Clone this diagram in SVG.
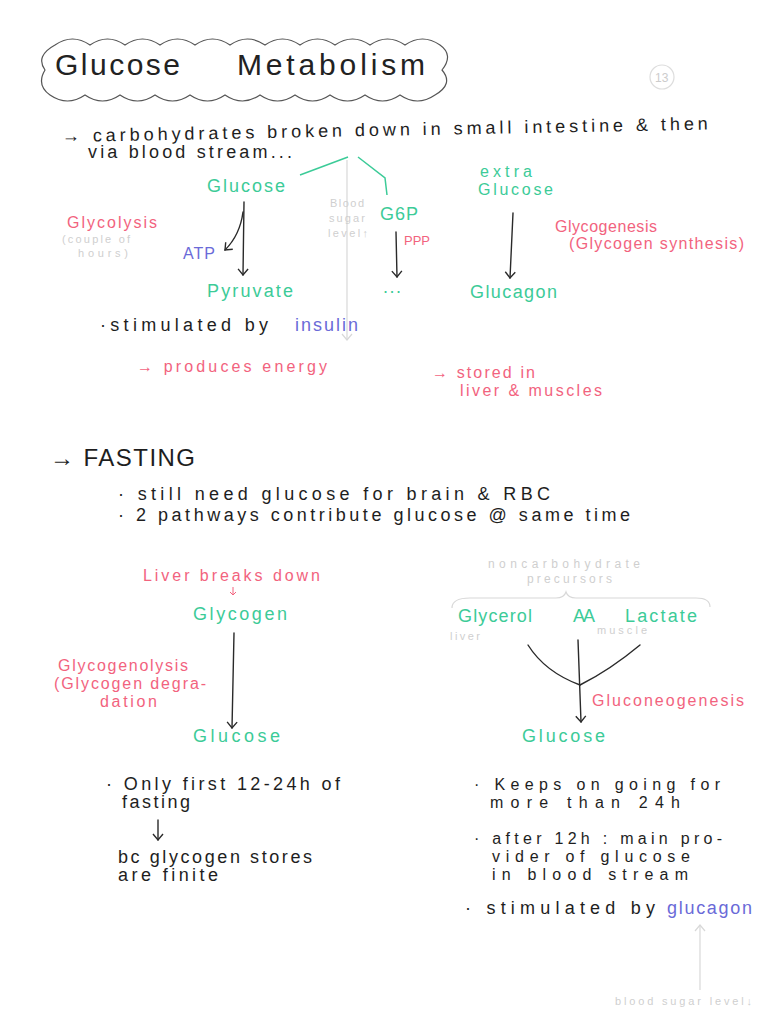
<svg xmlns="http://www.w3.org/2000/svg" width="768" height="1024" viewBox="0 0 768 1024">
<style>
text{font-family:"Liberation Sans","DejaVu Sans",sans-serif;font-size:18px;fill:#1e1e1e}
.g{fill:#3ccb98;font-size:18px}
.p{fill:#f2637e;font-size:16px}
.b{fill:#6a6ad8}
.f{fill:#cfcfcf;font-size:11px}
.t{font-size:30px;fill:#222}
.n{font-size:16px}
.ln{stroke:#2a2a2a;stroke-width:1.4;fill:none;stroke-linecap:round}
.gl{stroke:#3ccb98;stroke-width:1.5;fill:none}
.fl{stroke:#d8d8d8;stroke-width:1.2;fill:none}
</style>
<defs>
<marker id="ah" viewBox="0 0 12 12" refX="10" refY="6" markerWidth="12" markerHeight="12" markerUnits="userSpaceOnUse" orient="auto">
<path d="M4,1 L10,6 L4,11" fill="none" stroke="#2a2a2a" stroke-width="1.4"/>
</marker>
<marker id="fh" viewBox="0 0 12 12" refX="10" refY="6" markerWidth="12" markerHeight="12" markerUnits="userSpaceOnUse" orient="auto">
<path d="M4,1 L10,6 L4,11" fill="none" stroke="#d8d8d8" stroke-width="1.2"/>
</marker>
</defs>
<rect width="768" height="1024" fill="#fff"/>

<g id="title">
<path d="M55,45 q17.5,-12 35,0 q17.5,-12 35,0 q17.5,-12 35,0 q17.5,-12 35,0 q17.5,-12 35,0 q17.5,-12 35,0 q17.5,-12 35,0 q17.5,-12 35,0 q17.5,-12 35,0 q17.5,-12 35,0 q17.5,-12 35,0 q14,10 2,25 q12,14 -7,25 q-17.5,12 -35,0 q-17.5,12 -35,0 q-17.5,12 -35,0 q-17.5,12 -35,0 q-17.5,12 -35,0 q-17.5,12 -35,0 q-17.5,12 -35,0 q-17.5,12 -35,0 q-17.5,12 -35,0 q-17.5,12 -35,0 q-17.5,12 -35,0 q-14,-10 -5,-25 q-10,-14 10,-25 z" fill="none" stroke="#555" stroke-width="1.2"/>
<text class="t" x="55" y="75" textLength="125">Glucose</text>
<text class="t" x="237" y="75" textLength="188">Metabolism</text>
</g>
<g id="page-number">
<circle cx="662" cy="77" r="12" fill="none" stroke="#ddd" stroke-width="1.2"/>
<text x="655" y="82" style="font-size:12px;fill:#ccc">13</text>
</g>

<g id="intro">
<text x="62" y="142" transform="rotate(-1.1 62 142)" textLength="646">→ carbohydrates  broken down  in small intestine &amp; then</text>
<text x="88" y="158" textLength="204">via  blood stream...</text>
</g>

<g id="connectors">
<path class="gl" d="M300,175 L348,157"/>
<path class="gl" d="M358,157 L385,178 L387,195"/>
<path class="fl" d="M347,160 L347,340" marker-end="url(#fh)"/>
<path class="ln" d="M244,202 L243,275" marker-end="url(#ah)"/>
<path class="ln" d="M243,212 Q240,235 225,250" marker-end="url(#ah)"/>
<path class="ln" d="M396,232 L397,277" marker-end="url(#ah)"/>
<path class="ln" d="M513,213 L510,278" marker-end="url(#ah)"/>
<path class="ln" d="M234,633 L232,728" marker-end="url(#ah)"/>
<path d="M233,587 L233,594" stroke="#f2637e" stroke-width="1" fill="none"/>
<path d="M230,592 L233,595 L236,592" stroke="#f2637e" stroke-width="1" fill="none"/>
<path class="fl" d="M452,608 Q452,598 470,598 L556,598 Q564,598 566,592 Q568,598 576,598 L696,598 Q710,598 710,607"/>
<path class="ln" d="M528,645 Q545,672 580,685"/>
<path class="ln" d="M578,640 L581,722" marker-end="url(#ah)"/>
<path class="ln" d="M640,645 Q610,670 580,685"/>
<path class="ln" d="M158,820 L158,840" marker-end="url(#ah)"/>
<path class="fl" d="M700,990 L700,925" marker-end="url(#fh)"/>
</g>

<g id="node-glucose-top"><text class="g" x="207" y="192" textLength="78">Glucose</text></g>
<g id="node-g6p"><text class="g" x="380" y="220" textLength="38">G6P</text></g>
<g id="node-extra-glucose">
<text class="g" x="480" y="177" textLength="52" style="font-size:16px">extra</text>
<text class="g" x="478" y="195" textLength="75" style="font-size:16px">Glucose</text>
</g>
<g id="label-glycolysis">
<text class="p" x="67" y="228" textLength="90">Glycolysis</text>
<text class="f" x="62" y="243" textLength="68">(couple of</text>
<text class="f" x="78" y="257" textLength="50">hours)</text>
</g>
<g id="label-blood-sugar-up">
<text class="f" x="330" y="207" textLength="34">Blood</text>
<text class="f" x="329" y="222" textLength="36">sugar</text>
<text class="f" x="328" y="237" textLength="40">level↑</text>
</g>
<g id="node-atp"><text class="b" x="183" y="259" textLength="32" style="font-size:16px">ATP</text></g>
<g id="node-pyruvate"><text class="g" x="207" y="297" textLength="86">Pyruvate</text></g>
<g id="label-ppp"><text class="p" x="404" y="245" textLength="26" style="font-size:13px">PPP</text></g>
<g id="node-dots"><text class="g" x="383" y="293" textLength="18">...</text></g>
<g id="node-glucagon"><text class="g" x="470" y="298" textLength="87">Glucagon</text></g>
<g id="label-glycogenesis">
<text class="p" x="555" y="232" textLength="102">Glycogenesis</text>
<text class="p" x="569" y="249" textLength="175">(Glycogen synthesis)</text>
</g>
<g id="note-insulin">
<text x="100" y="331" textLength="168">·stimulated  by</text>
<text class="b" x="295" y="331" textLength="63">insulin</text>
</g>
<g id="note-energy"><text class="p" x="137" y="372" textLength="190">→ produces  energy</text></g>
<g id="note-stored">
<text class="p" x="432" y="378" textLength="103">→ stored in</text>
<text class="p" x="460" y="396" textLength="142">liver &amp; muscles</text>
</g>

<g id="fasting">
<text x="50" y="466" style="font-size:24px" textLength="145">→  FASTING</text>
<text x="118" y="500" textLength="432">·  still  need  glucose  for  brain  &amp;  RBC</text>
<text x="118" y="521" textLength="512">·  2 pathways   contribute  glucose @ same  time</text>
</g>

<g id="label-liver"><text class="p" x="143" y="581" textLength="177">Liver   breaks down</text></g>
<g id="node-glycogen"><text class="g" x="193" y="620" textLength="94">Glycogen</text></g>
<g id="label-glycogenolysis">
<text class="p" x="58" y="671" textLength="130">Glycogenolysis</text>
<text class="p" x="54" y="689" textLength="152">(Glycogen degra-</text>
<text class="p" x="100" y="707" textLength="57">dation</text>
</g>
<g id="node-glucose-left"><text class="g" x="193" y="742" textLength="87">Glucose</text></g>

<g id="label-precursors">
<text class="f" x="488" y="568" textLength="152" style="font-size:12px">noncarbohydrate</text>
<text class="f" x="527" y="583" textLength="85" style="font-size:12px">precursors</text>
</g>
<g id="node-glycerol"><text class="g" x="458" y="622" textLength="74">Glycerol</text></g>
<g id="node-aa"><text class="g" x="573" y="622" textLength="22">AA</text></g>
<g id="node-lactate"><text class="g" x="625" y="622" textLength="72">Lactate</text></g>
<g id="label-liver-muscle">
<text class="f" x="450" y="640" textLength="30">liver</text>
<text class="f" x="597" y="634" textLength="50">muscle</text>
</g>
<g id="label-gluconeogenesis"><text class="p" x="592" y="706" textLength="152">Gluconeogenesis</text></g>
<g id="node-glucose-right"><text class="g" x="522" y="742" textLength="83">Glucose</text></g>

<g id="notes-left">
<text x="106" y="790" textLength="234">· Only  first  12-24h   of</text>
<text x="122" y="808" textLength="68">fasting</text>
<text x="118" y="863" textLength="194">bc glycogen  stores</text>
<text x="118" y="881" textLength="100">are  finite</text>
</g>
<g id="notes-right">
<text class="n" x="474" y="790" textLength="246">·  Keeps   on   going   for</text>
<text class="n" x="490" y="808" textLength="190">more   than  24h</text>
<text class="n" x="474" y="844" textLength="248">·  after  12h : main  pro-</text>
<text class="n" x="492" y="862" textLength="198">vider   of   glucose</text>
<text class="n" x="492" y="880" textLength="196">in  blood   stream</text>
<text x="465" y="914" textLength="190">·  stimulated   by</text>
<text class="b" x="667" y="914" textLength="85">glucagon</text>
</g>
<g id="label-blood-sugar-down"><text class="f" x="615" y="1005" textLength="137">blood sugar level↓</text></g>
</svg>
